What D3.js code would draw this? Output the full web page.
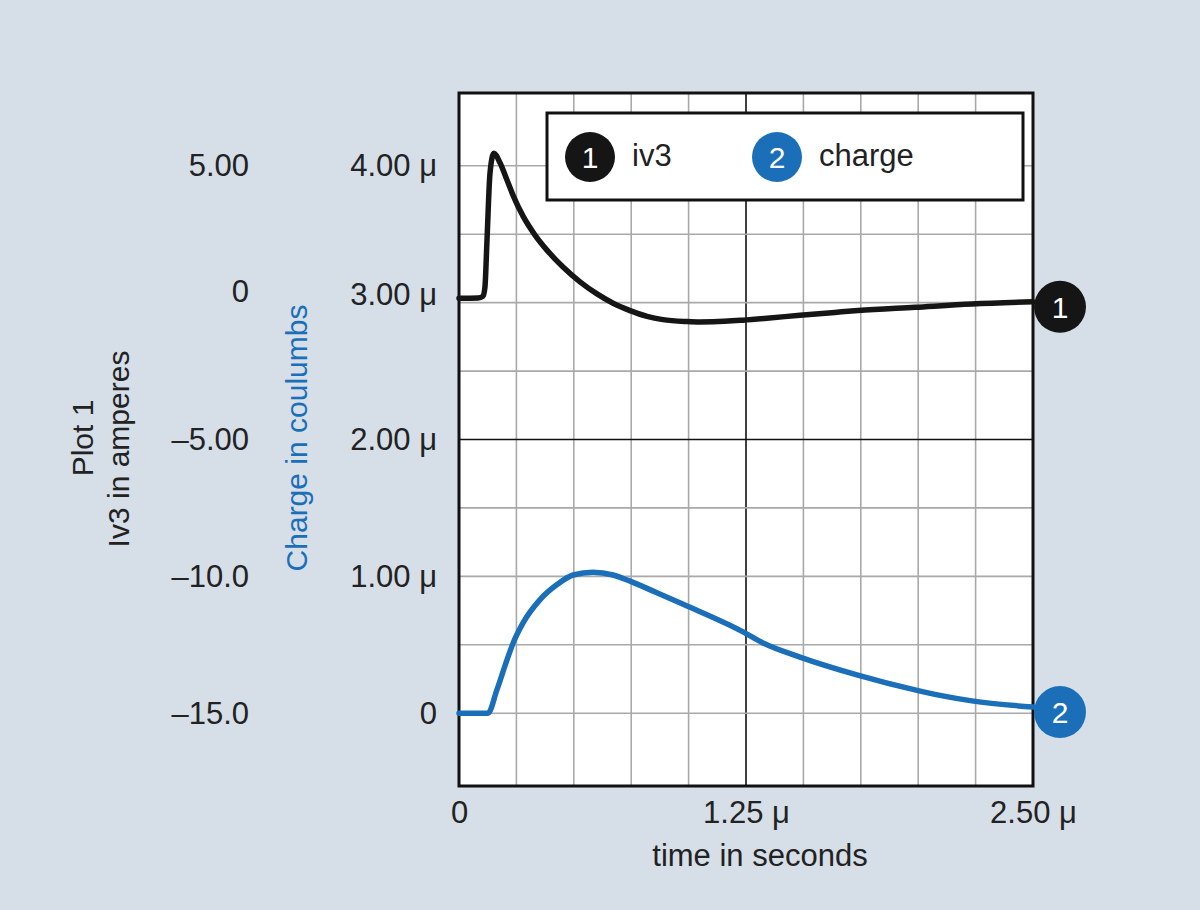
<!DOCTYPE html>
<html><head><meta charset="utf-8">
<script src="https://cdn.jsdelivr.net/npm/d3@7"></script>
<style>body{margin:0;background:#d6dee8;} svg{display:block}</style>
</head><body><svg id="c" width="1200" height="910"></svg>
<script>
// ---- data (time in µs, iv3 in amperes, charge in µC) ----
const iv3Time = [0, 0.083, 0.105, 0.113, 0.122, 0.135, 0.152, 0.179, 0.209, 0.235, 0.279, 0.331, 0.383, 0.453, 0.527, 0.601, 0.671, 0.745, 0.819, 0.888, 0.993, 1.05, 1.106, 1.237, 1.341, 1.485, 1.646, 1.738, 1.986, 2.234, 2.5];
const iv3Amps = [0.16, 0.17, 0.24, 0.57, 2.29, 4.73, 5.46, 5.10, 4.48, 3.93, 3.16, 2.47, 1.92, 1.30, 0.76, 0.32, -0.02, -0.29, -0.50, -0.62, -0.69, -0.705, -0.70, -0.64, -0.57, -0.46, -0.35, -0.29, -0.17, -0.05, 0.03];
const chargeTime = [0, 0.126, 0.165, 0.209, 0.235, 0.279, 0.353, 0.427, 0.497, 0.584, 0.671, 0.745, 0.862, 0.984, 1.237, 1.324, 1.485, 1.733, 1.986, 2.095, 2.234, 2.5];
const chargeMicroC = [0, 0, 0.17, 0.39, 0.51, 0.66, 0.83, 0.94, 1.01, 1.03, 1.01, 0.965, 0.88, 0.79, 0.594, 0.513, 0.41, 0.28, 0.17, 0.13, 0.09, 0.045];

const xTicks = [0, 1.25, 2.5];
const xTickLabels = ["0", "1.25 μ", "2.50 μ"];
const chargeTicks = [0, 1, 2, 3, 4];
const chargeTickLabels = ["0", "1.00 μ", "2.00 μ", "3.00 μ", "4.00 μ"];
const iv3Ticks = [-15, -10, -5, 0, 5];
const iv3TickLabels = ["–15.0", "–10.0", "–5.00", "0", "5.00"];
const xGrid = [0.25, 0.5, 0.75, 1.0, 1.25, 1.5, 1.75, 2.0, 2.25];
const yGrid = [0, 0.5, 1, 1.5, 2, 2.5, 3, 3.5, 4];
const xMajor = [1.25];
const yMajor = [2];
const legendLabels = ["iv3", "charge"];
const seriesNumbers = ["1", "2"];

const BLACK = "#151515", BLUE = "#1b6fb8";
const FONT = "'Liberation Sans', Arial, sans-serif";

const L = 459, R = 1033, T = 93, B = 786;
const x = d3.scaleLinear([0, 2.5], [L, R]);
const yQ = d3.scaleLinear([-0.532, 4.532], [B, T]);
const yI = d3.scaleLinear([-17.66, 7.66], [B, T]);

const svg = d3.select("#c");
svg.append("rect").attr("width", 1200).attr("height", 910).attr("fill", "#d6dee8");
svg.append("rect").attr("x", L).attr("y", T).attr("width", R - L).attr("height", B - T).attr("fill", "#fff");

// grid
svg.append("g").selectAll("line").data(xGrid).join("line")
  .attr("x1", d => x(d)).attr("x2", d => x(d)).attr("y1", T).attr("y2", B)
  .attr("stroke", d => xMajor.includes(d) ? "#111" : "#a9a9a9")
  .attr("stroke-width", 1.6);
svg.append("g").selectAll("line").data(yGrid).join("line")
  .attr("y1", d => yQ(d)).attr("y2", d => yQ(d)).attr("x1", L).attr("x2", R)
  .attr("stroke", d => yMajor.includes(d) ? "#111" : "#a9a9a9")
  .attr("stroke-width", 1.6);

// frame
svg.append("rect").attr("x", L).attr("y", T).attr("width", R - L).attr("height", B - T)
  .attr("fill", "none").attr("stroke", "#111").attr("stroke-width", 3);

// legend
const lg = svg.append("g");
lg.append("rect").attr("x", 547).attr("y", 113).attr("width", 476).attr("height", 87)
  .attr("fill", "#fff").attr("stroke", "#111").attr("stroke-width", 3);
const legX = [590, 777];
[BLACK, BLUE].forEach((c, i) => {
  lg.append("circle").attr("cx", legX[i]).attr("cy", 157).attr("r", 25).attr("fill", c);
  lg.append("text").attr("x", legX[i]).attr("y", 168).attr("text-anchor", "middle")
    .attr("font-family", FONT).attr("font-size", 30).attr("fill", "#fff").text(seriesNumbers[i]);
  lg.append("text").attr("x", legX[i] + 42).attr("y", 166)
    .attr("font-family", FONT).attr("font-size", 31).attr("fill", "#222").text(legendLabels[i]);
});

// lines
const lineI = d3.line().x((d, i) => x(iv3Time[i])).y(d => yI(d)).curve(d3.curveMonotoneX);
const lineQ = d3.line().x((d, i) => x(chargeTime[i])).y(d => yQ(d)).curve(d3.curveMonotoneX);
svg.append("path").attr("d", lineI(iv3Amps)).attr("fill", "none").attr("stroke", BLACK)
  .attr("stroke-width", 5.5).attr("stroke-linejoin", "round").attr("stroke-linecap", "round");
svg.append("path").attr("d", lineQ(chargeMicroC)).attr("fill", "none").attr("stroke", BLUE)
  .attr("stroke-width", 5.5).attr("stroke-linejoin", "round").attr("stroke-linecap", "round");

// end markers
const ends = [
  {c: BLACK, y: yI(iv3Amps[iv3Amps.length - 1]), n: seriesNumbers[0]},
  {c: BLUE, y: yQ(chargeMicroC[chargeMicroC.length - 1]), n: seriesNumbers[1]}
];
ends.forEach(e => {
  svg.append("circle").attr("cx", x(2.5) + 27).attr("cy", e.y + 5).attr("r", 26).attr("fill", e.c);
  svg.append("text").attr("x", x(2.5) + 27).attr("y", e.y + 16).attr("text-anchor", "middle")
    .attr("font-family", FONT).attr("font-size", 30).attr("fill", "#fff").text(e.n);
});

// axes
const axX = d3.axisBottom(x).tickValues(xTicks).tickSize(0).tickPadding(0)
  .tickFormat((d, i) => xTickLabels[i]);
const gx = svg.append("g").attr("transform", `translate(0,${B})`).call(axX);
gx.select(".domain").remove();
gx.selectAll("text").attr("y", 37).attr("dy", 0).attr("font-family", FONT).attr("font-size", 31).attr("fill", "#222");

const axQ = d3.axisLeft(yQ).tickValues(chargeTicks).tickSize(0).tickPadding(22)
  .tickFormat((d, i) => chargeTickLabels[i]);
const gq = svg.append("g").attr("transform", `translate(${L},0)`).call(axQ);
gq.select(".domain").remove();
gq.selectAll("text").attr("font-family", FONT).attr("font-size", 31).attr("fill", "#222")
  .attr("y", d => d === 3 ? -8 : 0);

const axI = d3.axisLeft(yI).tickValues(iv3Ticks).tickSize(0).tickPadding(0)
  .tickFormat((d, i) => iv3TickLabels[i]);
const gi = svg.append("g").attr("transform", `translate(249,0)`).call(axI);
gi.select(".domain").remove();
gi.selectAll("text").attr("font-family", FONT).attr("font-size", 31).attr("fill", "#222")
  .attr("y", d => d === 0 ? -11 : 0);

// titles
svg.append("text").attr("x", 760).attr("y", 866).attr("text-anchor", "middle")
  .attr("font-family", FONT).attr("font-size", 31).attr("fill", "#222").text("time in seconds");
svg.append("text").attr("transform", "translate(93,438) rotate(-90)").attr("text-anchor", "middle")
  .attr("font-family", FONT).attr("font-size", 30).attr("fill", "#222").text("Plot 1");
svg.append("text").attr("transform", "translate(129,449) rotate(-90)").attr("text-anchor", "middle")
  .attr("font-family", FONT).attr("font-size", 30).attr("fill", "#222").text("Iv3 in amperes");
svg.append("text").attr("transform", "translate(307,438) rotate(-90)").attr("text-anchor", "middle")
  .attr("font-family", FONT).attr("font-size", 30).attr("fill", BLUE).text("Charge in coulumbs");
</script></body></html>
